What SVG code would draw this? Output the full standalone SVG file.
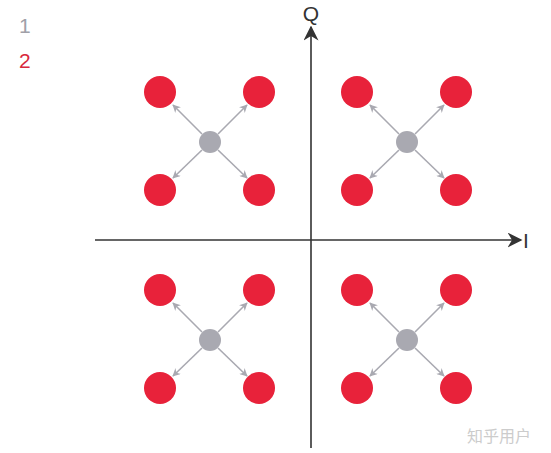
<svg xmlns="http://www.w3.org/2000/svg" width="551" height="453" viewBox="0 0 551 453">
<defs>
<style>
.red{fill:#e8223a}
.gray{fill:#a9a9b1}
.vec{stroke:#a9a9b1;stroke-width:1.6;fill:none;marker-end:url(#ah)}
.axis{stroke:#333;stroke-width:1.6;fill:none;marker-end:url(#ax)}
.lbl{font-family:"Liberation Sans",Arial,sans-serif;font-size:21px}
</style>
<marker id="ah" viewBox="0 0 10 10" refX="9" refY="5" markerWidth="8" markerHeight="8" markerUnits="userSpaceOnUse" orient="auto"><path d="M0,0 L10,5 L0,10 L3,5 z" fill="#a9a9b1"/></marker>
<marker id="ax" viewBox="0 0 10 10" refX="9" refY="5" markerWidth="15" markerHeight="15" markerUnits="userSpaceOnUse" orient="auto"><path d="M0,0 L10,5 L0,10 L3,5 z" fill="#333"/></marker>
<g id="cluster">
<path class="vec" d="M202,134 L173,105"/>
<path class="vec" d="M218,134 L247,105"/>
<path class="vec" d="M202,150 L173,178"/>
<path class="vec" d="M218,150 L247,178"/>
<circle class="gray" cx="210" cy="142" r="11"/>
<circle class="red" cx="160" cy="92" r="16"/>
<circle class="red" cx="259" cy="92" r="16"/>
<circle class="red" cx="160" cy="190" r="16"/>
<circle class="red" cx="259" cy="190" r="16"/>
</g>
</defs>
<rect width="551" height="453" fill="#fff"/>
<g id="connectors">
<path class="axis" d="M95,240 L521,240"/>
<path class="axis" d="M311,448 L311,27"/>
</g>
<g id="q1"><use href="#cluster"/></g>
<g id="q2"><use href="#cluster" transform="translate(197,0)"/></g>
<g id="q3"><use href="#cluster" transform="translate(0,198)"/></g>
<g id="q4"><use href="#cluster" transform="translate(197,198)"/></g>
<g id="labels">
<text class="lbl" x="311" y="21" text-anchor="middle" fill="#333">Q</text>
<text class="lbl" x="523" y="248" fill="#333">I</text>
<text class="lbl" x="19" y="33" fill="#a0a0a8">1</text>
<text class="lbl" x="19" y="68" fill="#d8283c">2</text>
<text x="467" y="442" font-family="'Noto Sans CJK SC',sans-serif" font-size="16" fill="#cccccc">知乎用户</text>
</g>
</svg>
